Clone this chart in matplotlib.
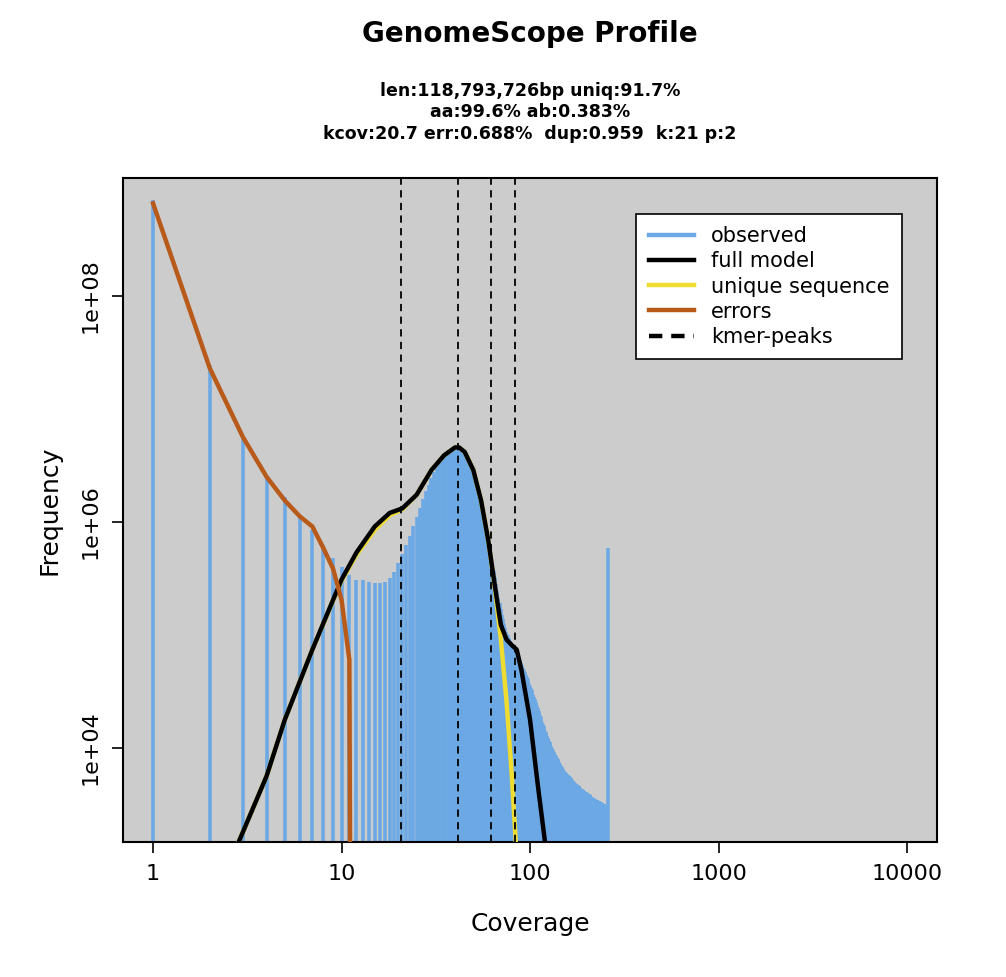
import numpy as np
import matplotlib
matplotlib.use("Agg")
import matplotlib.pyplot as plt
from matplotlib.lines import Line2D

# observed k-mer histogram, log10(frequency) for coverage 1..258
obs_log = [
    8.85, 7.39, 6.73, 6.40, 6.22, 6.06, 5.93, 5.80, 5.68, 5.60,
    5.53, 5.49, 5.49, 5.47, 5.46, 5.46, 5.47, 5.50, 5.56, 5.64,
    5.72, 5.80, 5.88, 5.96, 6.04, 6.12, 6.20, 6.27, 6.33, 6.39,
    6.44, 6.48, 6.52, 6.55, 6.58, 6.60, 6.62, 6.63, 6.64, 6.65,
    6.65, 6.65, 6.64, 6.62, 6.60, 6.57, 6.54, 6.50, 6.46, 6.42,
    6.37, 6.32, 6.27, 6.21, 6.15, 6.09, 6.03, 5.96, 5.90, 5.83,
    5.77, 5.70, 5.64, 5.57, 5.51, 5.45, 5.39, 5.33, 5.28, 5.23,
    5.18, 5.14, 5.10, 5.06, 5.03, 5.00, 4.97, 4.95, 4.92, 4.90,
    4.87, 4.85, 4.84, 4.82, 4.81, 4.80, 4.79, 4.78, 4.76, 4.75,
    4.73, 4.71, 4.69, 4.67, 4.65, 4.63, 4.61, 4.59, 4.57, 4.55,
    4.53, 4.51, 4.49, 4.47, 4.45, 4.43, 4.41, 4.39, 4.37, 4.35,
    4.33, 4.31, 4.29, 4.27, 4.25, 4.23, 4.21, 4.19, 4.17, 4.15,
    4.14, 4.12, 4.11, 4.09, 4.08, 4.06, 4.05, 4.03, 4.02, 4.00,
    3.99, 3.98, 3.97, 3.96, 3.95, 3.94, 3.93, 3.92, 3.91, 3.90,
    3.89, 3.88, 3.87, 3.86, 3.85, 3.84, 3.83, 3.82, 3.81, 3.80,
    3.80, 3.79, 3.79, 3.78, 3.78, 3.77, 3.77, 3.76, 3.76, 3.75,
    3.75, 3.74, 3.74, 3.73, 3.73, 3.72, 3.72, 3.71, 3.71, 3.70,
    3.70, 3.69, 3.69, 3.68, 3.68, 3.68, 3.67, 3.67, 3.67, 3.66,
    3.66, 3.66, 3.65, 3.65, 3.65, 3.64, 3.64, 3.64, 3.63, 3.63,
    3.63, 3.62, 3.62, 3.62, 3.61, 3.61, 3.61, 3.60, 3.60, 3.60,
    3.60, 3.59, 3.59, 3.59, 3.59, 3.58, 3.58, 3.58, 3.58, 3.57,
    3.57, 3.57, 3.57, 3.56, 3.56, 3.56, 3.56, 3.55, 3.55, 3.55,
    3.55, 3.55, 3.54, 3.54, 3.54, 3.54, 3.54, 3.53, 3.53, 3.53,
    3.53, 3.53, 3.52, 3.52, 3.52, 3.52, 3.52, 3.51, 3.51, 3.51,
    3.51, 3.51, 3.50, 3.50, 3.50, 3.50, 3.50, 3.49, 3.49, 3.49,
    3.49, 3.49, 3.48, 3.48, 3.48, 3.48, 3.48, 5.77,
]

# full model curve
model_cov = [2.85, 4, 5, 7, 10, 12, 15, 18, 21, 25, 30, 35, 40, 42, 45, 50,
             55, 60, 65, 70, 75, 80, 85, 90, 100, 110, 120]
model_log = [3.17, 3.75, 4.25, 4.87, 5.49, 5.73, 5.96, 6.08, 6.12, 6.24, 6.46,
             6.59, 6.66, 6.66, 6.62, 6.46, 6.19, 5.84, 5.44, 5.09, 4.96, 4.91,
             4.87, 4.69, 4.25, 3.67, 3.17]

# unique sequence curve
uniq_cov = [2.85, 4, 5, 7, 10, 12, 15, 18, 21, 25, 30, 35, 40, 42, 45, 50,
            55, 60, 65, 70, 75, 80, 84]
uniq_log = [3.17, 3.75, 4.25, 4.87, 5.48, 5.71, 5.93, 6.06, 6.11, 6.24, 6.46,
            6.59, 6.66, 6.66, 6.62, 6.46, 6.19, 5.84, 5.42, 4.96, 4.42, 3.76, 3.17]

# error curve
err_cov = [1, 2, 3, 4, 5, 6, 7, 8, 9, 10, 11, 11.1]
err_log = [8.82, 7.36, 6.75, 6.40, 6.19, 6.05, 5.96, 5.77, 5.59, 5.31, 4.78, 3.0]

kcov = 20.7
peaks = [kcov * i for i in range(1, 5)]

C_OBS = "#6CA8E3"
C_ERR = "#B85A1A"
C_UNIQ = "#EEDC30"

fig = plt.figure(figsize=(10.06, 9.77), dpi=100)
ax = fig.add_axes([0.1223, 0.1382, 0.8091, 0.6796])
ax.set_facecolor("#CCCCCC")
ax.set_xscale("log")
ax.set_yscale("log")
ymin, ymax = 1472, 1.107e9
ax.set_xlim(0.693, 14420)
ax.set_ylim(ymin, ymax)

cov = np.arange(1, len(obs_log) + 1)
ax.vlines(cov, ymin, 10 ** np.array(obs_log), color=C_OBS, lw=2.6, zorder=2)

ax.plot(model_cov, 10 ** np.array(model_log), color="black", lw=3.2, zorder=4)
ax.plot(uniq_cov, 10 ** np.array(uniq_log), color=C_UNIQ, lw=3.2, zorder=3)
ax.plot(err_cov, 10 ** np.array(err_log), color=C_ERR, lw=3.2, zorder=5)
for p in peaks:
    ax.axvline(p, color="black", ls=(0, (4, 3)), lw=1.3, zorder=6)

ax.set_xticks([1, 10, 100, 1000, 10000])
ax.set_xticklabels(["1", "10", "100", "1000", "10000"], fontsize=16)
ax.set_yticks([1e4, 1e6, 1e8])
ax.set_yticklabels(["1e+04", "1e+06", "1e+08"], fontsize=16, rotation=90, va="center")
ax.minorticks_off()
ax.tick_params(length=8, width=1.2, pad=8)
for s in ax.spines.values():
    s.set_linewidth(1.5)
ax.set_xlabel("Coverage", fontsize=18, labelpad=20)
ax.set_ylabel("Frequency", fontsize=18, labelpad=14)

fig.text(0.527, 0.965, "GenomeScope Profile", ha="center", va="center",
         fontsize=20, fontweight="bold")
fig.text(0.527, 0.885,
         "len:118,793,726bp uniq:91.7%\naa:99.6% ab:0.383%\n"
         "kcov:20.7 err:0.688%  dup:0.959  k:21 p:2",
         ha="center", va="center", fontsize=12.5, fontweight="bold", linespacing=1.25)

handles = [Line2D([], [], color=C_OBS, lw=3.2),
           Line2D([], [], color="black", lw=3.2),
           Line2D([], [], color=C_UNIQ, lw=3.2),
           Line2D([], [], color=C_ERR, lw=3.2),
           Line2D([], [], color="black", lw=3.2, ls=(0, (3, 2)))]
leg = ax.legend(handles, ["observed", "full model", "unique sequence", "errors", "kmer-peaks"],
                loc="upper right", bbox_to_anchor=(0.97, 0.962), fontsize=15,
                fancybox=False, framealpha=1, edgecolor="black", borderpad=0.6,
                handlelength=2.2, labelspacing=0.25)
leg.get_frame().set_linewidth(1.2)

fig.savefig("out.png", dpi=100)
